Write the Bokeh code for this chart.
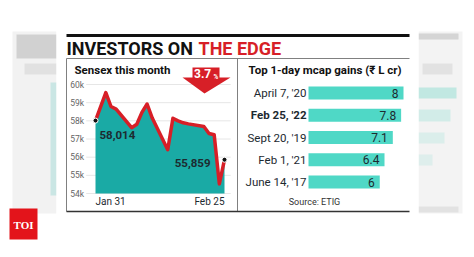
import pandas as pd
from bokeh.plotting import figure
from bokeh.models import Range1d
from bokeh.core.properties import value
from bokeh.embed import file_html
from bokeh.resources import INLINE

# ---------------- data ----------------
sensex_dates = ["2022-01-31", "2022-02-02", "2022-02-03", "2022-02-04", "2022-02-07",
                "2022-02-08", "2022-02-09", "2022-02-10", "2022-02-11", "2022-02-14",
                "2022-02-15", "2022-02-16", "2022-02-17", "2022-02-18", "2022-02-21",
                "2022-02-22", "2022-02-23", "2022-02-24", "2022-02-25"]
sensex_values = [58014, 59558, 58788, 58645, 57621, 57809, 58466, 58926, 58153, 56406,
                 58142, 57997, 57892, 57833, 57684, 57301, 57232, 54530, 55859]
y_ticks = [54000, 55000, 56000, 57000, 58000, 59000, 60000]
y_tick_labels = ["54k", "55k", "56k", "57k", "58k", "59k", "60k"]
x_tick_labels = ["Jan 31", "Feb 25"]

gain_dates = ["April 7, '20", "Feb 25, '22", "Sept 20, '19", "Feb 1, '21", "June 14, '17"]
gain_values = [8, 7.8, 7.1, 6.4, 6]
gain_labels = ["8", "7.8", "7.1", "6.4", "6"]

# ---------------- styles ----------------
FONT = "Roboto"
TEAL = "#1aaaa5"
BAR = "#4fd8c6"
RED = "#d71f27"
DARK = "#1d2a30"
W, H = 474, 257

p = figure(width=W, height=H, x_range=Range1d(0, W), y_range=Range1d(H, 0),
           output_backend="svg", toolbar_location=None, min_border=0)
p.axis.visible = False
p.grid.visible = False
p.outline_line_color = None
p.background_fill_color = "white"
p.border_fill_color = "white"

# ---- blurred side background (thumbnail padding) ----
p.quad(left=[12], right=[56], top=[31], bottom=[213], fill_color="#f2f2f2", line_color=None)
p.quad(left=[418], right=[462], top=[31], bottom=[213], fill_color="#f3f3f3", line_color=None)
p.quad(left=[16], right=[56], top=[34], bottom=[58], fill_color="#a8a8a8", line_color=None, alpha=0.45)
p.quad(left=[24], right=[56], top=[63], bottom=[74], fill_color="#c4c4c4", line_color=None, alpha=0.35)
p.quad(left=[50], right=[56], top=[82], bottom=[195], fill_color="#9ad8d3", line_color=None, alpha=0.45)
p.quad(left=[418], right=[458], top=[33], bottom=[39], fill_color="#a8a8a8", line_color=None, alpha=0.4)
p.quad(left=[422], right=[452], top=[63], bottom=[74], fill_color="#c4c4c4", line_color=None, alpha=0.35)
p.quad(left=[418], right=[456], top=[87], bottom=[98], fill_color="#84dccf", line_color=None, alpha=0.45)
p.quad(left=[418], right=[450], top=[109], bottom=[121], fill_color="#95dfd4", line_color=None, alpha=0.35)
p.quad(left=[418], right=[444], top=[132], bottom=[143], fill_color="#a5e4da", line_color=None, alpha=0.3)
p.quad(left=[418], right=[432], top=[154], bottom=[165], fill_color="#aee6dd", line_color=None, alpha=0.3)
p.quad(left=[418], right=[458], top=[206], bottom=[212], fill_color="#c4c4c4", line_color=None, alpha=0.35)

# ---- card ----
p.quad(left=[56], right=[418], top=[30], bottom=[214], fill_color="white", line_color=None)
p.segment(x0=[66], y0=[35], x1=[409], y1=[35], line_color="#111111", line_width=3)
p.text(x=[66], y=[47.5], text=["INVESTORS ON"], text_font=value(FONT), text_font_style="bold",
       text_font_size="18px", text_color="#111111", text_baseline="middle", text_align="left")
p.text(x=[198], y=[47.5], text=["THE EDGE"], text_font=value(FONT), text_font_style="bold",
       text_font_size="18px", text_color=RED, text_baseline="middle", text_align="left")
p.segment(x0=[66, 66, 237], y0=[58, 58, 58], x1=[409, 66, 237], y1=[58, 211, 211],
          line_color="#808080", line_width=1)
p.segment(x0=[66], y0=[211], x1=[409], y1=[211], line_color="#333333", line_width=1.6)

p.text(x=[74], y=[69], text=["Sensex this month"], text_font=value(FONT), text_font_style="bold",
       text_font_size="11.5px", text_color="#111111", text_baseline="middle")
p.text(x=[248], y=[69], text=["Top 1-day mcap gains (₹ L cr)"], text_font=value(FONT),
       text_font_style="bold", text_font_size="11.5px", text_color="#111111", text_baseline="middle")

# ---- Sensex chart (own scales) ----
dates = pd.to_datetime(sensex_dates)
t0 = dates[0].value / 1e6
t1 = dates[-1].value / 1e6
ms_per_px = (t1 - t0) / (224 - 95)
p.extra_x_ranges["sx"] = Range1d(t0 - 95 * ms_per_px, t0 + (W - 95) * ms_per_px)
v_per_px = (60000 - 54000) / (193 - 84)
ys0 = 54000 - (H - 193) * v_per_px
p.extra_y_ranges["sy"] = Range1d(ys0, ys0 + H * v_per_px)

day = 86400000
p.segment(x0=[t0 - 1.8 * day] * len(y_ticks), y0=y_ticks, x1=[t1 + 1.2 * day] * len(y_ticks), y1=y_ticks,
          line_color="#e6e6e6", line_width=1, x_range_name="sx", y_range_name="sy")
p.text(x=[t0 - 2.2 * day] * len(y_ticks), y=y_ticks, text=y_tick_labels, text_font=value(FONT),
       text_font_size="8.5px", text_color="#666666", text_baseline="middle", text_align="right",
       x_range_name="sx", y_range_name="sy")
p.varea(x=dates, y1=[54000] * len(dates), y2=sensex_values, fill_color=TEAL,
        x_range_name="sx", y_range_name="sy")
p.line(x=dates, y=sensex_values, line_color=RED, line_width=3.5, line_join="round",
       x_range_name="sx", y_range_name="sy")
p.scatter(x=[dates[0], dates[-1]], y=[sensex_values[0], sensex_values[-1]], size=5,
          fill_color="#111111", line_color="white", line_width=1,
          x_range_name="sx", y_range_name="sy")
p.text(x=[dates[0]], y=[sensex_values[0]], text=["{:,}".format(sensex_values[0])],
       text_font=value(FONT), text_font_style="bold", text_font_size="11.5px", text_color=DARK,
       text_baseline="middle", text_align="left", x_offset=4, y_offset=14,
       x_range_name="sx", y_range_name="sy")
p.text(x=[dates[-1]], y=[sensex_values[-1]], text=["{:,}".format(sensex_values[-1])],
       text_font=value(FONT), text_font_style="bold", text_font_size="11.5px", text_color=DARK,
       text_baseline="middle", text_align="right", x_offset=-14, y_offset=3,
       x_range_name="sx", y_range_name="sy")
p.text(x=[dates[0], dates[-1]], y=[54000, 54000], text=x_tick_labels, text_font=value(FONT),
       text_font_size="10px", text_color=DARK, text_baseline="middle", text_align=["left", "right"],
       y_offset=8, x_range_name="sx", y_range_name="sy")

# red down arrow with change
p.quad(left=[192], right=[219], top=[67], bottom=[78], fill_color=RED, line_color=None)
p.patch(x=[182, 230, 204], y=[77, 77, 93], fill_color=RED, line_color=None)
p.text(x=[193.5], y=[73], text=["3.7"], text_font=value(FONT), text_font_style="bold",
       text_font_size="12px", text_color="white", text_baseline="middle")
p.text(x=[213], y=[76], text=["%"], text_font=value(FONT), text_font_style="bold",
       text_font_size="6.5px", text_color="white", text_baseline="middle")

# ---- bar chart (own scales) ----
u_per_px = 8 / (403 - 308)
bx0 = -308 * u_per_px
p.extra_x_ranges["bx"] = Range1d(bx0, bx0 + W * u_per_px)
i_per_px = 4 / (181.5 - 92.5)
p.extra_y_ranges["by"] = Range1d((H - 92.5) * i_per_px, -92.5 * i_per_px)
idx = list(range(len(gain_values)))
p.hbar(y=idx, left=0, right=gain_values, height=13 * i_per_px, fill_color=BAR, line_color=None,
       x_range_name="bx", y_range_name="by")
p.text(x=gain_values, y=idx, text=gain_labels, text_font=value(FONT), text_font_size="12px",
       text_color=DARK, text_baseline="middle", text_align="right", x_offset=-5,
       x_range_name="bx", y_range_name="by")
p.text(x=[0] * len(idx), y=idx, text=gain_dates, text_font=value(FONT), text_font_size="11.5px",
       text_font_style=["normal", "bold", "normal", "normal", "normal"],
       text_color=DARK, text_baseline="middle", text_align="right", x_offset=-2,
       x_range_name="bx", y_range_name="by")
p.text(x=[314], y=[201], text=["Source: ETIG"], text_font=value(FONT), text_font_size="9px",
       text_color="#333333", text_baseline="middle", text_align="center")

# ---- TOI logo ----
p.quad(left=[9], right=[37], top=[208], bottom=[239], fill_color="#e3141b", line_color=None)
p.text(x=[23], y=[224], text=["TOI"], text_font=value("Liberation Serif"), text_font_style="bold",
       text_font_size="11px", text_color="white", text_baseline="middle", text_align="center")

open("out.html", "w").write(file_html(p, INLINE))
